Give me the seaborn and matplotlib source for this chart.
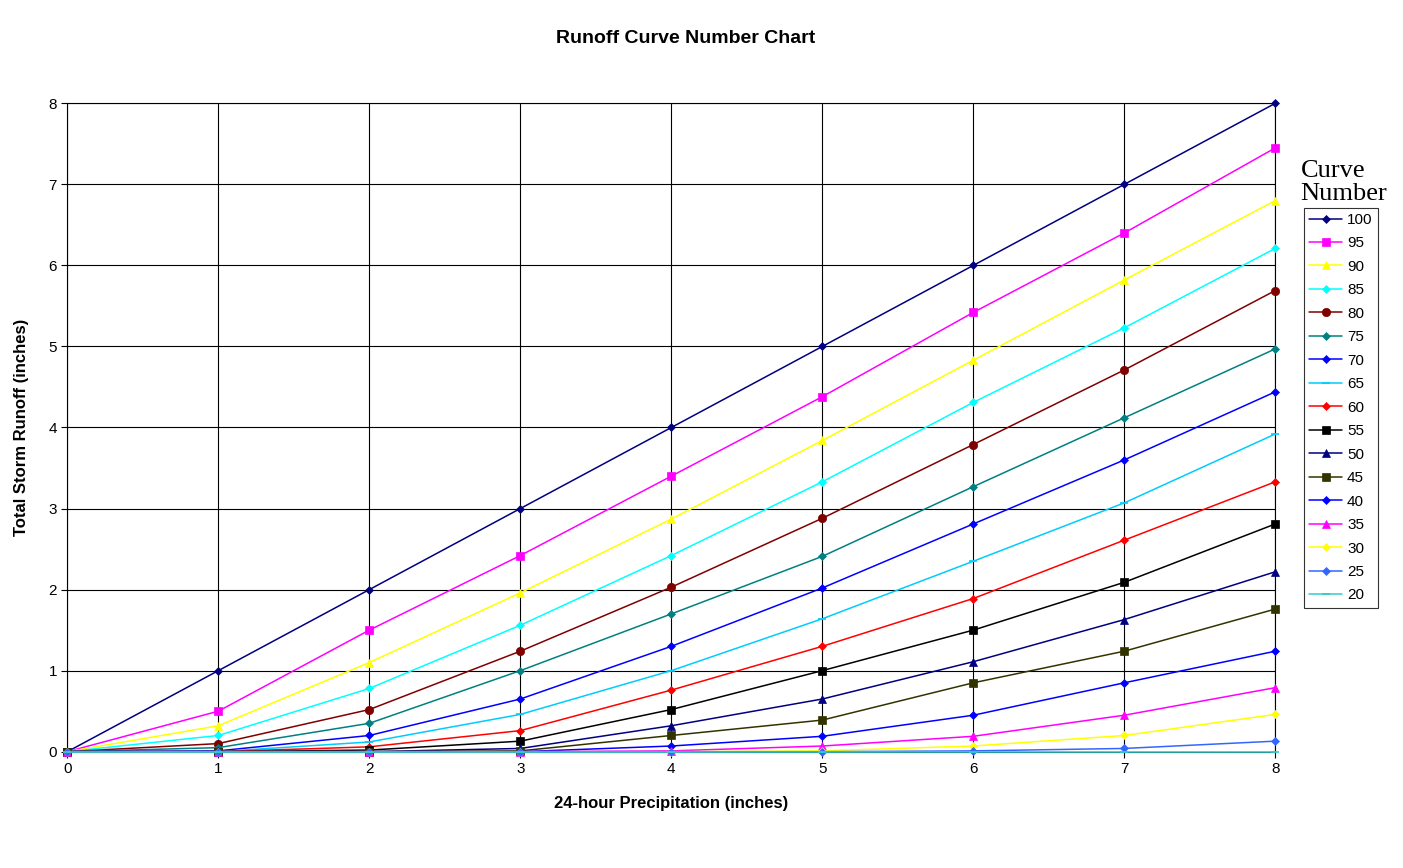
import matplotlib
matplotlib.use("Agg")
import matplotlib.pyplot as plt
import seaborn as sns
import pandas as pd

precip = [0, 1, 2, 3, 4, 5, 6, 7, 8]
curve_numbers = [100, 95, 90, 85, 80, 75, 70, 65, 60, 55, 50, 45, 40, 35, 30, 25, 20]
runoff = {
    100: [0, 1, 2, 3, 4, 5, 6, 7, 8],
    95: [0, 0.5, 1.5, 2.42, 3.4, 4.38, 5.42, 6.4, 7.45],
    90: [0, 0.32, 1.1, 1.96, 2.87, 3.84, 4.83, 5.82, 6.8],
    85: [0, 0.2, 0.78, 1.56, 2.42, 3.33, 4.31, 5.23, 6.21],
    80: [0, 0.1, 0.52, 1.24, 2.03, 2.88, 3.79, 4.71, 5.69],
    75: [0, 0.05, 0.35, 1.0, 1.7, 2.41, 3.27, 4.12, 4.97],
    70: [0, 0.01, 0.2, 0.65, 1.3, 2.02, 2.81, 3.6, 4.44],
    65: [0, 0, 0.12, 0.46, 1.0, 1.64, 2.35, 3.07, 3.92],
    60: [0, 0, 0.06, 0.26, 0.76, 1.3, 1.89, 2.61, 3.33],
    55: [0, 0, 0.02, 0.13, 0.52, 1.0, 1.5, 2.09, 2.81],
    50: [0, 0, 0, 0.04, 0.32, 0.65, 1.11, 1.63, 2.22],
    45: [0, 0, 0, 0.01, 0.2, 0.39, 0.85, 1.24, 1.76],
    40: [0, 0, 0, 0, 0.07, 0.19, 0.45, 0.85, 1.24],
    35: [0, 0, 0, 0, 0.01, 0.07, 0.19, 0.45, 0.79],
    30: [0, 0, 0, 0, 0, 0.01, 0.07, 0.2, 0.46],
    25: [0, 0, 0, 0, 0, 0, 0.01, 0.04, 0.13],
    20: [0, 0, 0, 0, 0, 0, 0, 0, 0],
}
colors = ["#000080", "#FF00FF", "#FFFF00", "#00FFFF", "#800000", "#008080", "#0000FF",
          "#00CCFF", "#FF0000", "#000000", "#000080", "#333300", "#0000FF", "#FF00FF",
          "#FFFF00", "#3366FF", "#33CCCC"]
markers = ["D", "s", "^", "D", "o", "D", "D", "_", "D", "s", "^", "s", "D", "^", "D", "D", "_"]

sns.set_style("white")
plt.rcParams["font.family"] = ["Liberation Sans", "DejaVu Sans"]
plt.rcParams["text.color"] = "black"
plt.rcParams["axes.labelcolor"] = "black"
plt.rcParams["xtick.color"] = "black"
plt.rcParams["ytick.color"] = "black"

fig = plt.figure(figsize=(14.03, 8.68), dpi=100)
ax = fig.add_axes([0.048, 0.134, 0.861, 0.747])

for cn, c, m in zip(curve_numbers, colors, markers):
    df = pd.DataFrame({"P": precip, "Q": runoff[cn]})
    sns.lineplot(data=df, x="P", y="Q", ax=ax, color=c, marker=m,
                 markersize=6 if m in ("_", "o", "s", "^") else 4.5,
                 markeredgecolor=c, markeredgewidth=1.2 if m == "_" else 0.5,
                 linewidth=1.1, label=str(cn), clip_on=False, zorder=3)

ax.set_xlim(0, 8)
ax.set_ylim(0, 8)
ax.set_xticks(range(9))
ax.set_yticks(range(9))
ax.grid(True, color="black", linewidth=0.8)
ax.set_axisbelow(True)
for s in ax.spines.values():
    s.set_color("black")
    s.set_linewidth(0.8)
ax.tick_params(axis="both", labelsize=11, direction="out", length=4, color="black", left=True, bottom=True)
ax.set_xlabel("24-hour Precipitation (inches)", fontsize=12, fontweight="bold", labelpad=14)
ax.set_ylabel("Total Storm Runoff (inches)", fontsize=12, fontweight="bold", labelpad=14)
fig.suptitle("Runoff Curve Number Chart", fontsize=14, fontweight="bold", y=0.965, x=0.489)

leg = ax.legend(loc="upper left", bbox_to_anchor=(1.017, 0.851), frameon=True, fancybox=False,
                fontsize=11, handlelength=2.2, labelspacing=0.62, borderpad=0.35, handletextpad=0.3)
leg.get_frame().set_edgecolor("black")
leg.get_frame().set_linewidth(0.8)
fig.text(0.927, 0.764, "Curve\nNumber", fontsize=19, family="Liberation Serif", ha="left", va="bottom",
         linespacing=1.05)

fig.savefig("out.png", dpi=100)
